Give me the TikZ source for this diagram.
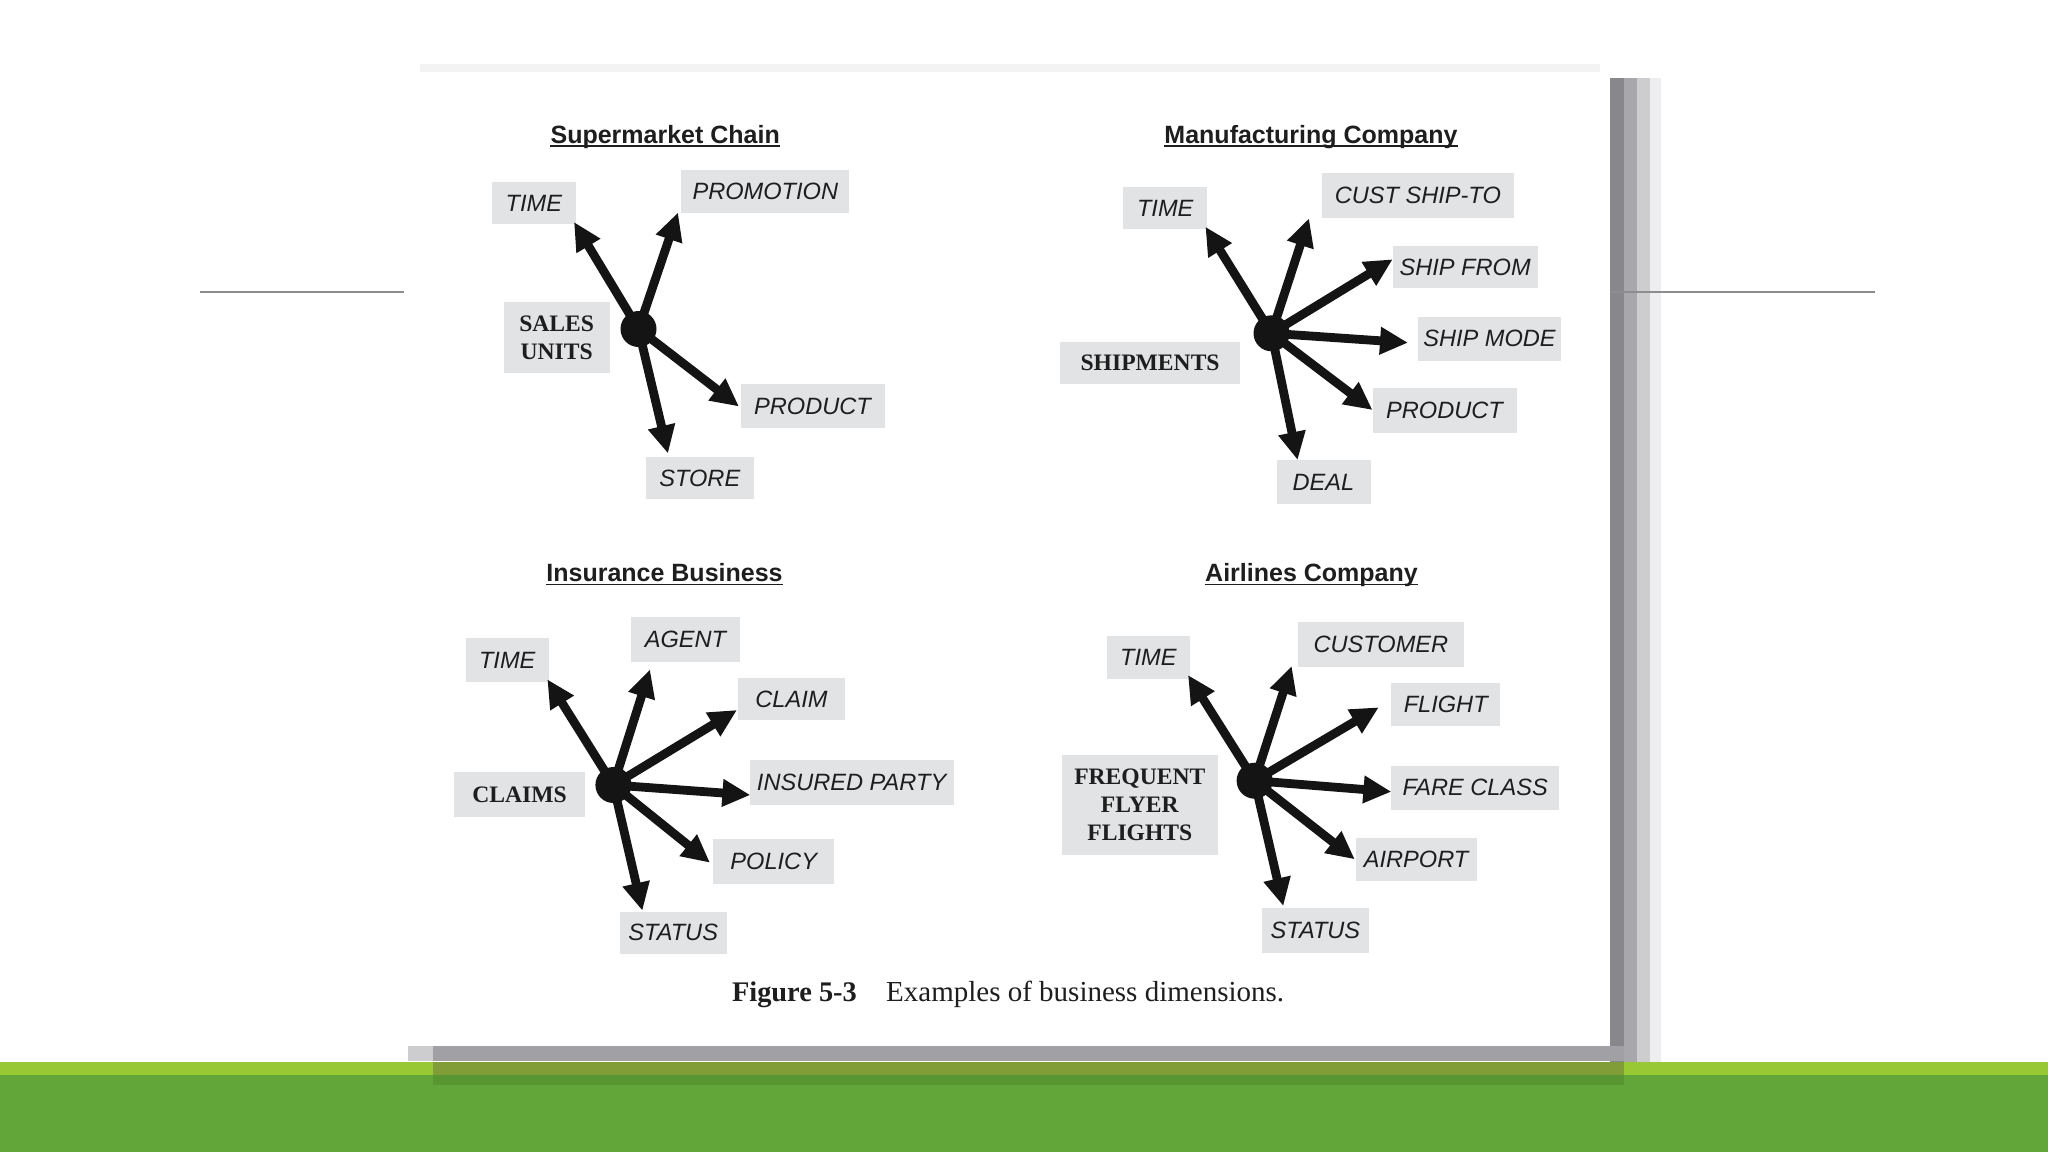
\documentclass[tikz,border=0pt]{standalone}
\usepackage{fontspec}
\setmainfont{Liberation Serif}
\newfontfamily\sansf{Liberation Sans}
\usetikzlibrary{arrows.meta}
\definecolor{boxgray}{RGB}{226,227,229}
\definecolor{inkblack}{RGB}{20,20,20}
\definecolor{txt}{RGB}{30,30,30}
\definecolor{rule}{RGB}{140,140,145}
\definecolor{shA}{RGB}{135,135,140}
\definecolor{shB}{RGB}{168,168,172}
\definecolor{shC}{RGB}{205,205,208}
\definecolor{shD}{RGB}{238,238,240}
\definecolor{shTop}{RGB}{243,243,244}
\definecolor{shBot}{RGB}{160,160,165}
\definecolor{lgreen}{RGB}{152,201,52}
\definecolor{dgreen}{RGB}{98,165,56}
\definecolor{olive}{RGB}{128,157,55}
\definecolor{dolive}{RGB}{88,150,50}
\tikzset{
  dimbox/.style={fill=boxgray, inner sep=0pt, text=txt, font=\sansf\itshape\fontsize{11.8pt}{14pt}\selectfont},
  factbox/.style={fill=boxgray, inner sep=0pt, text=txt, align=center, font=\bfseries\fontsize{11.8pt}{14pt}\selectfont},
  hubdot/.style={circle, fill=inkblack, minimum size=18pt, inner sep=0pt},
  ray/.style={line width=4.4pt, draw=inkblack, -{Triangle[length=14pt,width=13pt]}},
  ttl/.style={font=\sansf\bfseries\fontsize{12.5pt}{15pt}\selectfont, inner sep=0pt, anchor=base, text=txt},
  ul/.style={draw=txt, line width=0.7pt},
  captxt/.style={inner sep=0pt, anchor=base west, text=txt, font=\fontsize{14.5pt}{17pt}\selectfont}
}
\begin{document}
\begin{tikzpicture}[x=0.5pt,y=-0.5pt]
\useasboundingbox (0,0) rectangle (2048,1152);
\fill[white] (0,0) rectangle (2048,1152);
% green band
\fill[lgreen] (0,1062) rectangle (2048,1075);
\fill[dgreen] (0,1075) rectangle (2048,1152);
\fill[olive] (433,1062) rectangle (1624,1075);
\fill[dolive] (433,1075) rectangle (1624,1085);
% card shadows
\fill[shTop] (420,64) rectangle (1600,72);
\fill[shD] (1650,78) rectangle (1661,1062);
\fill[shC] (1637,78) rectangle (1650,1062);
\fill[shB] (1624,78) rectangle (1637,1062);
\fill[shA] (1610,78) rectangle (1624,1062);
\fill[shC] (408,1046) rectangle (433,1061);
\fill[shBot] (433,1046) rectangle (1624,1061);
% template rule
\draw[rule, line width=1pt] (200,292) -- (1875,292);
% card
\fill[white] (404,72) rectangle (1610,1046);

% ===== Supermarket Chain =====
\node[ttl] (t1) at (665.2,143.3) {Supermarket Chain};
\draw[ul] ([yshift=-1.4pt]t1.base west) -- ([yshift=-1.4pt]t1.base east);
\node[dimbox, minimum width=42pt, minimum height=21.3pt] (smtime) at (533.8,203) {TIME};
\node[dimbox, minimum width=84pt, minimum height=21.5pt] (smpromo) at (765.3,191.5) {PROMOTION};
\node[factbox, minimum width=53.2pt, minimum height=35.6pt] (smsales) at (556.7,337.3) {SALES\\UNITS};
\node[dimbox, minimum width=72pt, minimum height=22.2pt] (smprod) at (812.5,406.2) {PRODUCT};
\node[dimbox, minimum width=53.8pt, minimum height=21.3pt] (smstore) at (699.8,478) {STORE};
\node[hubdot] (smhub) at (638.5,329) {};
\coordinate (smtimeT) at (574,222);
\coordinate (smpromoT) at (678,212.5);
\coordinate (smprodT) at (739,406.5);
\coordinate (smstoreT) at (668,453.5);
\draw[ray] (smhub.center) -- (smtimeT);
\draw[ray] (smhub.center) -- (smpromoT);
\draw[ray] (smhub.center) -- (smprodT);
\draw[ray] (smhub.center) -- (smstoreT);

% ===== Manufacturing Company =====
\node[ttl] (t2) at (1311,143.3) {Manufacturing Company};
\draw[ul] ([yshift=-1.4pt]t2.base west) -- ([yshift=-1.4pt]t2.base east);
\node[dimbox, minimum width=41.9pt, minimum height=21.3pt] (mctime) at (1165.2,208) {TIME};
\node[dimbox, minimum width=95.8pt, minimum height=22.5pt] (mccust) at (1417.8,195.8) {CUST SHIP-TO};
\node[dimbox, minimum width=72.4pt, minimum height=21.2pt] (mcfrom) at (1465.1,267.2) {SHIP FROM};
\node[dimbox, minimum width=71.5pt, minimum height=22.2pt] (mcmode) at (1489.5,338.8) {SHIP MODE};
\node[factbox, minimum width=89.9pt, minimum height=21.3pt] (mcship) at (1150.1,363) {SHIPMENTS};
\node[dimbox, minimum width=72pt, minimum height=22.5pt] (mcprod) at (1444.5,410.8) {PRODUCT};
\node[dimbox, minimum width=47pt, minimum height=22pt] (mcdeal) at (1323.5,482) {DEAL};
\node[hubdot] (mchub) at (1271.5,333.3) {};
\coordinate (mctimeT) at (1205.4,226.7);
\coordinate (mccustT) at (1309,218.3);
\coordinate (mcfromT) at (1392.7,259.3);
\coordinate (mcmodeT) at (1408,342.7);
\coordinate (mcprodT) at (1372.5,410);
\coordinate (mcdealT) at (1297.6,460);
\draw[ray] (mchub.center) -- (mctimeT);
\draw[ray] (mchub.center) -- (mccustT);
\draw[ray] (mchub.center) -- (mcfromT);
\draw[ray] (mchub.center) -- (mcmodeT);
\draw[ray] (mchub.center) -- (mcprodT);
\draw[ray] (mchub.center) -- (mcdealT);

% ===== Insurance Business =====
\node[ttl] (t3) at (664.5,581.7) {Insurance Business};
\draw[ul] ([yshift=-1.4pt]t3.base west) -- ([yshift=-1.4pt]t3.base east);
\node[dimbox, minimum width=41.5pt, minimum height=22.3pt] (intime) at (507.2,660) {TIME};
\node[dimbox, minimum width=54.7pt, minimum height=22.5pt] (inagent) at (685.5,639.2) {AGENT};
\node[dimbox, minimum width=53.5pt, minimum height=21.3pt] (inclaim) at (791.5,699) {CLAIM};
\node[factbox, minimum width=65.9pt, minimum height=22.2pt] (inclaims) at (519.5,794.5) {CLAIMS};
\node[dimbox, minimum width=102pt, minimum height=22.5pt] (inins) at (851.6,782.5) {INSURED PARTY};
\node[dimbox, minimum width=60.3pt, minimum height=22.4pt] (inpol) at (773.7,861.7) {POLICY};
\node[dimbox, minimum width=53.6pt, minimum height=21.2pt] (instat) at (673.2,932.8) {STATUS};
\node[hubdot] (inhub) at (613.4,785) {};
\coordinate (intimeT) at (547.3,679.3);
\coordinate (inagentT) at (650,669.3);
\coordinate (inclaimT) at (737,710);
\coordinate (ininsT) at (750.4,795);
\coordinate (inpolT) at (710,862.7);
\coordinate (instatT) at (642.4,910.7);
\draw[ray] (inhub.center) -- (intimeT);
\draw[ray] (inhub.center) -- (inagentT);
\draw[ray] (inhub.center) -- (inclaimT);
\draw[ray] (inhub.center) -- (ininsT);
\draw[ray] (inhub.center) -- (inpolT);
\draw[ray] (inhub.center) -- (instatT);

% ===== Airlines Company =====
\node[ttl] (t4) at (1311.5,581.7) {Airlines Company};
\draw[ul] ([yshift=-1.4pt]t4.base west) -- ([yshift=-1.4pt]t4.base east);
\node[dimbox, minimum width=41.9pt, minimum height=21.8pt] (altime) at (1148.4,657.5) {TIME};
\node[dimbox, minimum width=83.3pt, minimum height=22.5pt] (alcust) at (1380.9,644.8) {CUSTOMER};
\node[dimbox, minimum width=54.3pt, minimum height=21.2pt] (alflight) at (1445.7,704.5) {FLIGHT};
\node[factbox, minimum width=77.8pt, minimum height=50pt] (alfff) at (1139.8,805) {FREQUENT\\FLYER\\FLIGHTS};
\node[dimbox, minimum width=83.8pt, minimum height=22.2pt] (alfare) at (1475.2,787.8) {FARE CLASS};
\node[dimbox, minimum width=60.4pt, minimum height=21.5pt] (alair) at (1416.1,859.2) {AIRPORT};
\node[dimbox, minimum width=53.6pt, minimum height=22.2pt] (alstat) at (1315.4,930.5) {STATUS};
\node[hubdot] (alhub) at (1254.6,780.7) {};
\coordinate (altimeT) at (1188,675);
\coordinate (alcustT) at (1291.7,666);
\coordinate (alflightT) at (1378.8,707.3);
\coordinate (alfareT) at (1391.4,791.7);
\coordinate (alairT) at (1354.8,859.3);
\coordinate (alstatT) at (1283.3,906);
\draw[ray] (alhub.center) -- (altimeT);
\draw[ray] (alhub.center) -- (alcustT);
\draw[ray] (alhub.center) -- (alflightT);
\draw[ray] (alhub.center) -- (alfareT);
\draw[ray] (alhub.center) -- (alairT);
\draw[ray] (alhub.center) -- (alstatT);

% caption
\node[captxt, font=\bfseries\fontsize{14.2pt}{17pt}\selectfont] (capA) at (731.6,1001.7) {Figure 5-3};
\node[captxt] (capB) at (885.8,1001.7) {Examples of business dimensions.};
\end{tikzpicture}
\end{document}
